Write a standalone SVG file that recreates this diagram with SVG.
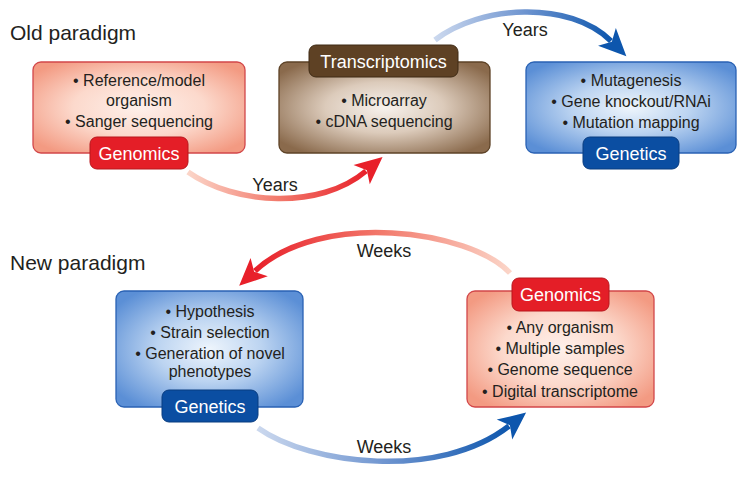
<svg xmlns="http://www.w3.org/2000/svg" width="750" height="478" viewBox="0 0 750 478">
<defs>
<radialGradient id="gRed" cx="0.5" cy="0.5" r="0.62">
<stop offset="0" stop-color="#fef0ea"/><stop offset="0.5" stop-color="#fcd9cc"/><stop offset="1" stop-color="#f39a82"/>
</radialGradient>
<radialGradient id="gBrown" cx="0.5" cy="0.5" r="0.62">
<stop offset="0" stop-color="#f7f2ed"/><stop offset="0.45" stop-color="#dccbbb"/><stop offset="1" stop-color="#8a6a4c"/>
</radialGradient>
<radialGradient id="gBlue" cx="0.5" cy="0.5" r="0.62">
<stop offset="0" stop-color="#eef5fc"/><stop offset="0.45" stop-color="#bcd4f1"/><stop offset="1" stop-color="#5b8fd6"/>
</radialGradient>
<linearGradient id="a1" gradientUnits="userSpaceOnUse" x1="188" y1="172" x2="367" y2="170">
<stop offset="0" stop-color="#fbd5c8"/><stop offset="0.5" stop-color="#f27a6c"/><stop offset="1" stop-color="#e8202a"/>
</linearGradient>
<linearGradient id="a2" gradientUnits="userSpaceOnUse" x1="435" y1="40" x2="612" y2="42">
<stop offset="0" stop-color="#cbd8ee"/><stop offset="0.5" stop-color="#6f95d0"/><stop offset="1" stop-color="#0d56ad"/>
</linearGradient>
<linearGradient id="a3" gradientUnits="userSpaceOnUse" x1="510" y1="273" x2="254" y2="272">
<stop offset="0" stop-color="#fbd5c8"/><stop offset="0.5" stop-color="#f27a6c"/><stop offset="1" stop-color="#e8202a"/>
</linearGradient>
<linearGradient id="a4" gradientUnits="userSpaceOnUse" x1="258" y1="428" x2="510" y2="425">
<stop offset="0" stop-color="#cbd8ee"/><stop offset="0.5" stop-color="#6f95d0"/><stop offset="1" stop-color="#0d56ad"/>
</linearGradient>
<marker id="mRed" markerUnits="userSpaceOnUse" markerWidth="32" markerHeight="32" viewBox="-6 -13 28 26" refX="0" refY="0" orient="auto">
<path d="M-5,-11 L19,0 L-5,11 L1,0 z" fill="#e8202a"/>
</marker>
<marker id="mBlue" markerUnits="userSpaceOnUse" markerWidth="32" markerHeight="32" viewBox="-6 -13 28 26" refX="0" refY="0" orient="auto">
<path d="M-5,-11 L19,0 L-5,11 L1,0 z" fill="#0d56ad"/>
</marker>
</defs>
<style>
text{font-family:"Liberation Sans",Arial,sans-serif;fill:#231f20}
.h{font-size:21px}
.t{font-size:16px;text-anchor:middle}
.p{font-size:18px;text-anchor:middle;fill:#ffffff}
.l{font-size:18px;text-anchor:middle}
.bR{fill:url(#gRed);stroke:#d2474a;stroke-width:1.3}
.bB{fill:url(#gBrown);stroke:#5e4327;stroke-width:1.3}
.bL{fill:url(#gBlue);stroke:#2a62b4;stroke-width:1.3}
.pR{fill:#e41e27;stroke:#b8161d;stroke-width:1}
.pB{fill:#5e4124;stroke:#3f2b15;stroke-width:1}
.pL{fill:#0b4ea2;stroke:#083c80;stroke-width:1}
.c{fill:none;stroke-width:5.5}
</style>
<text class="h" x="10" y="40">Old paradigm</text>
<text class="h" x="10" y="270">New paradigm</text>

<g id="connectors">
<path class="c" d="M188,172 C235,205 320,210 366,171" stroke="url(#a1)" marker-end="url(#mRed)"/>
<path class="c" d="M435,40 C480,5 570,0 611,41" stroke="url(#a2)" marker-end="url(#mBlue)"/>
<path class="c" d="M510,273 C470,230 320,210 255,271" stroke="url(#a3)" marker-end="url(#mRed)"/>
<path class="c" d="M258,428 C310,465 440,480 509,426" stroke="url(#a4)" marker-end="url(#mBlue)"/>
<text class="l" x="275" y="191">Years</text>
<text class="l" x="525" y="36">Years</text>
<text class="l" x="384" y="257">Weeks</text>
<text class="l" x="384" y="453">Weeks</text>
</g>

<g id="old-genomics">
<rect class="bR" x="33" y="62" width="212" height="91" rx="8"/>
<text class="t" x="139" y="86">• Reference/model</text>
<text class="t" x="139" y="106">organism</text>
<text class="t" x="139" y="127">• Sanger sequencing</text>
<rect class="pR" x="90" y="137" width="98" height="32" rx="7"/>
<text class="p" x="139" y="160">Genomics</text>
</g>

<g id="old-transcriptomics">
<rect class="bB" x="279" y="62" width="211" height="91" rx="8"/>
<rect class="pB" x="309" y="45" width="149" height="32" rx="7"/>
<text class="p" x="383.5" y="68">Transcriptomics</text>
<text class="t" x="384" y="106">• Microarray</text>
<text class="t" x="384" y="127">• cDNA sequencing</text>
</g>

<g id="old-genetics">
<rect class="bL" x="526" y="62" width="210" height="91" rx="8"/>
<text class="t" x="631" y="86">• Mutagenesis</text>
<text class="t" x="631" y="107">• Gene knockout/RNAi</text>
<text class="t" x="631" y="128">• Mutation mapping</text>
<rect class="pL" x="583" y="137" width="96" height="32" rx="7"/>
<text class="p" x="631" y="160">Genetics</text>
</g>

<g id="new-genetics">
<rect class="bL" x="116" y="291" width="187" height="116" rx="8"/>
<text class="t" x="210" y="317">• Hypothesis</text>
<text class="t" x="210" y="338">• Strain selection</text>
<text class="t" x="210" y="359">• Generation of novel</text>
<text class="t" x="210" y="377">phenotypes</text>
<rect class="pL" x="162" y="390" width="96" height="32" rx="7"/>
<text class="p" x="210" y="413">Genetics</text>
</g>

<g id="new-genomics">
<rect class="bR" x="467" y="291" width="187" height="116" rx="8"/>
<rect class="pR" x="512" y="278" width="97" height="33" rx="7"/>
<text class="p" x="560.5" y="301">Genomics</text>
<text class="t" x="560" y="333">• Any organism</text>
<text class="t" x="560" y="354">• Multiple samples</text>
<text class="t" x="560" y="375">• Genome sequence</text>
<text class="t" x="560" y="397">• Digital transcriptome</text>
</g>
</svg>
